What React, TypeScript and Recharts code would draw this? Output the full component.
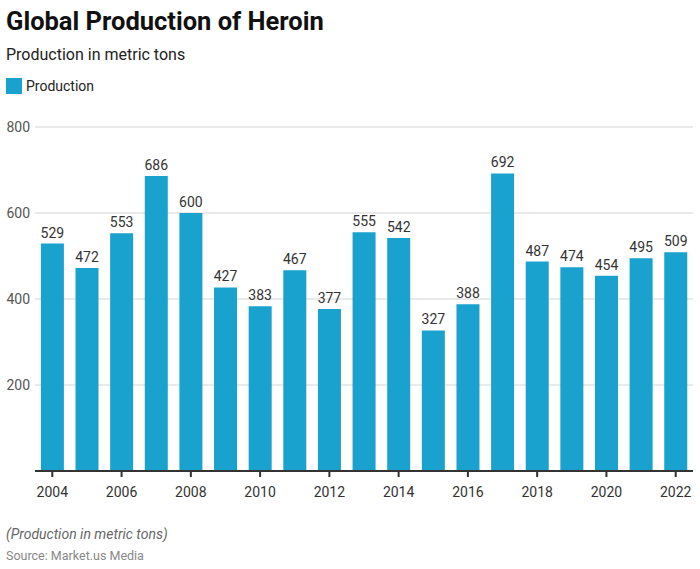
import React from 'react';
import { BarChart, Bar, XAxis, YAxis, CartesianGrid, LabelList } from 'recharts';

const years = ['2004','2005','2006','2007','2008','2009','2010','2011','2012','2013','2014','2015','2016','2017','2018','2019','2020','2021','2022'];
const production = [529, 472, 553, 686, 600, 427, 383, 467, 377, 555, 542, 327, 388, 692, 487, 474, 454, 495, 509];
const yTicks = [0, 200, 400, 600, 800];

const data = years.map((y, i) => ({ year: y, production: production[i] }));

const FONT = 'Roboto, "Noto Sans", sans-serif';
const BAR = '#19a2ce';

export default function App() {
  return (
    <div style={{ position: 'absolute', left: 0, top: 0, width: 700, height: 569, background: '#fff', fontFamily: FONT, overflow: 'hidden' }}>
      <div style={{ position: 'absolute', left: 6, top: 6, fontSize: 25.5, fontWeight: 700, color: '#111', lineHeight: '30px' }}>
        Global Production of Heroin
      </div>
      <div style={{ position: 'absolute', left: 6, top: 44, fontSize: 16, color: '#222', lineHeight: '22px' }}>
        Production in metric tons
      </div>
      <div style={{ position: 'absolute', left: 6, top: 78, display: 'flex', alignItems: 'center' }}>
        <div style={{ width: 16, height: 16, background: BAR }} />
        <span style={{ marginLeft: 4, fontSize: 14, color: '#222' }}>Production</span>
      </div>
      <div style={{ position: 'absolute', left: 0, top: 0 }}>
        <BarChart width={700} height={569} data={data} margin={{ top: 127, right: 7, bottom: 68, left: 0 }} barCategoryGap="17%">
          <CartesianGrid vertical={false} stroke="#d4d4d4" strokeWidth={1} />
          <YAxis
            width={35}
            domain={[0, 800]}
            ticks={yTicks}
            axisLine={false}
            tickLine={false}
            tickSize={0}
            tickMargin={5}
            tick={{ fill: '#555', fontSize: 14, fontFamily: FONT }}
            tickFormatter={(v: number) => (v === 0 ? '' : String(v))}
          />
          <XAxis
            dataKey="year"
            height={30}
            interval={1}
            axisLine={{ stroke: '#333', strokeWidth: 2 }}
            tickLine={{ stroke: '#333', strokeWidth: 2 }}
            tickSize={6}
            tickMargin={10}
            tick={{ fill: '#333', fontSize: 14, fontFamily: FONT }}
          />
          <Bar dataKey="production" fill={BAR} isAnimationActive={false}>
            <LabelList dataKey="production" position="top" offset={6} fill="#333" fontSize={14} fontFamily={FONT} />
          </Bar>
        </BarChart>
      </div>
      <div style={{ position: 'absolute', left: 6, top: 524, fontSize: 14, fontStyle: 'italic', color: '#666', lineHeight: '20px' }}>
        (Production in metric tons)
      </div>
      <div style={{ position: 'absolute', left: 6, top: 548, fontSize: 12.5, color: '#888', lineHeight: '16px' }}>
        Source: Market.us Media
      </div>
    </div>
  );
}
